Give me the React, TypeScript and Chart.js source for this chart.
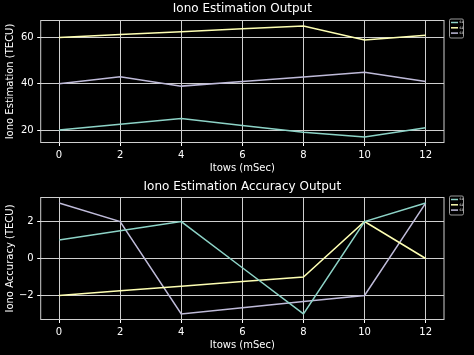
import React, { useEffect, useRef } from "react";
import { Chart, registerables } from "chart.js";

Chart.register(...registerables);

const xValues = [0, 2, 4, 6, 8, 10, 12];
const xTicks = [0, 2, 4, 6, 8, 10, 12];
const seriesLabels = ["S1", "S2", "S3"];
const seriesColors = ["#8dd3c7", "#feffb3", "#bfbbd9"];

const estimationS1 = [20, 22.5, 25, 22, 19, 17, 21];
const estimationS2 = [60, 61.3, 62.5, 63.8, 65, 59, 61];
const estimationS3 = [40, 43, 39, 41, 43, 45, 41];
const estimationTicks = [20, 40, 60];

const accuracyS1 = [1, 1.5, 2, -0.5, -3, 2, 3];
const accuracyS2 = [-2, -1.75, -1.5, -1.25, -1, 2, 0];
const accuracyS3 = [3, 2, -3, -2.67, -2.33, -2, 3];
const accuracyTicks = [-2, 0, 2];

const FONT = '"DejaVu Sans", "Liberation Sans", sans-serif';
const GRID = "#cfcfcf";

type PanelProps = {
  title: string;
  yLabel: string;
  series: number[][];
  yMin: number;
  yMax: number;
  yTicks: number[];
  top: number;
  titleY: number;
};

function Panel({ title, yLabel, series, yMin, yMax, yTicks, top, titleY }: PanelProps) {
  const ref = useRef<HTMLCanvasElement | null>(null);

  useEffect(() => {
    const canvas = ref.current;
    if (!canvas) return;

    const decor = {
      id: "decor",
      afterDraw(chart: any) {
        const { ctx, chartArea: ca } = chart;
        ctx.save();
        // frame
        ctx.strokeStyle = GRID;
        ctx.lineWidth = 1;
        ctx.strokeRect(ca.left, ca.top, ca.right - ca.left, ca.bottom - ca.top);
        // title
        ctx.fillStyle = "#ffffff";
        ctx.font = `12px ${FONT}`;
        ctx.textAlign = "center";
        ctx.textBaseline = "middle";
        ctx.fillText(title, (ca.left + ca.right) / 2, titleY);
        // legend
        const bx = ca.right + 5.5;
        const by = ca.top - 1.5;
        const bw = 14;
        const bh = 19;
        ctx.fillStyle = "#000000";
        ctx.strokeStyle = "#9a9a9a";
        ctx.lineWidth = 1;
        ctx.beginPath();
        ctx.roundRect(bx, by, bw, bh, 1.5);
        ctx.fill();
        ctx.stroke();
        chart.data.datasets.forEach((ds: any, i: number) => {
          const ly = by + 3.5 + i * 5.3;
          ctx.strokeStyle = ds.borderColor;
          ctx.lineWidth = 1.5;
          ctx.beginPath();
          ctx.moveTo(bx + 1.5, ly);
          ctx.lineTo(bx + 8.5, ly);
          ctx.stroke();
          ctx.fillStyle = "#ffffff";
          ctx.font = `3px ${FONT}`;
          ctx.textAlign = "left";
          ctx.textBaseline = "middle";
          ctx.fillText(ds.label, bx + 10, ly);
        });
        ctx.restore();
      },
    };

    const chart = new Chart(canvas, {
      type: "line",
      data: {
        datasets: series.map((ys, i) => ({
          label: seriesLabels[i],
          data: xValues.map((x, j) => ({ x, y: ys[j] })),
          borderColor: seriesColors[i],
          backgroundColor: seriesColors[i],
          borderWidth: 1.5,
          pointRadius: 0,
          tension: 0,
          fill: false,
        })),
      },
      options: {
        responsive: false,
        animation: false,
        devicePixelRatio: 1,
        layout: { padding: { left: 0, right: 30, top: 20.5, bottom: 0 } },
        plugins: {
          legend: { display: false },
          title: { display: false },
          tooltip: { enabled: false },
        },
        scales: {
          x: {
            type: "linear",
            min: -0.6,
            max: 12.6,
            afterBuildTicks: (s: any) => {
              s.ticks = xTicks.map((v) => ({ value: v }));
            },
            afterFit: (s: any) => {
              s.height = 35.5;
            },
            grid: {
              color: GRID,
              tickColor: "#ffffff",
              tickLength: 3.5,
              lineWidth: 1,
              drawTicks: true,
            },
            border: { display: false },
            ticks: {
              color: "#ffffff",
              font: { family: FONT, size: 10 },
              padding: 3,
              maxRotation: 0,
              autoSkip: false,
              callback: (v: any) => String(v),
            },
            title: {
              display: true,
              text: "Itows (mSec)",
              color: "#ffffff",
              font: { family: FONT, size: 10 },
              padding: { top: 0, bottom: 3.7 },
            },
          },
          y: {
            type: "linear",
            min: yMin,
            max: yMax,
            afterBuildTicks: (s: any) => {
              s.ticks = yTicks.map((v) => ({ value: v }));
            },
            afterFit: (s: any) => {
              s.width = 40.7;
            },
            grid: {
              color: GRID,
              tickColor: "#ffffff",
              tickLength: 3.5,
              lineWidth: 1,
              drawTicks: true,
            },
            border: { display: false },
            ticks: {
              color: "#ffffff",
              font: { family: FONT, size: 10 },
              padding: 3.5,
              autoSkip: false,
              callback: (v: any) => (v < 0 ? "\u2212" + String(-v) : String(v)),
            },
            title: {
              display: true,
              text: yLabel,
              color: "#ffffff",
              font: { family: FONT, size: 10 },
              padding: { top: 4, bottom: 0 },
            },
          },
        },
      },
      plugins: [decor],
    } as any);

    return () => chart.destroy();
  }, []);

  return (
    <canvas
      ref={ref}
      width={474}
      height={178}
      style={{ position: "absolute", left: 0, top, width: 474, height: 178, display: "block", background: "#000" }}
    />
  );
}

export default function App() {
  useEffect(() => {
    document.body.style.background = "#000";
    document.body.style.margin = "0";
  }, []);
  return (
    <div style={{ position: "absolute", left: 0, top: 0, width: 474, height: 355, background: "#000", overflow: "hidden" }}>
      <Panel
        title="Iono Estimation Output"
        yLabel="Iono Estimation (TECU)"
        series={[estimationS1, estimationS2, estimationS3]}
        yMin={14.6}
        yMax={67.4}
        yTicks={estimationTicks}
        top={0}
        titleY={9}
      />
      <Panel
        title="Iono Estimation Accuracy Output"
        yLabel="Iono Accuracy (TECU)"
        series={[accuracyS1, accuracyS2, accuracyS3]}
        yMin={-3.3}
        yMax={3.3}
        yTicks={accuracyTicks}
        top={177}
        titleY={9.5}
      />
    </div>
  );
}
